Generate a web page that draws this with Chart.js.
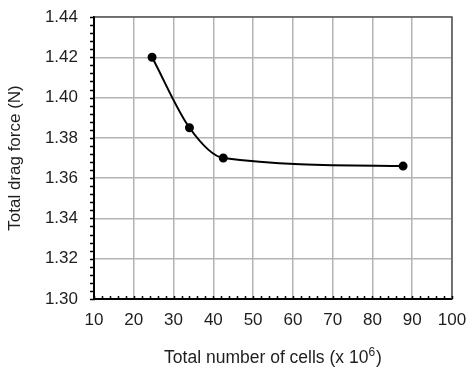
<!DOCTYPE html>
<html>
<head>
<meta charset="utf-8">
<script src="https://cdn.jsdelivr.net/npm/chart.js@4/dist/chart.umd.min.js"></script>
<style>
  html, body { margin: 0; padding: 0; background: #fff; }
  #wrap { width: 474px; height: 372px; }
</style>
</head>
<body>
<div id="wrap"><canvas id="chart" width="474" height="372"></canvas></div>
<script>
// mesh size (millions of cells) vs drag force
const cells = [24.6, 34.0, 42.5, 87.7];
const dragForce = [1.420, 1.385, 1.370, 1.366];
const xTicks = [10, 20, 30, 40, 50, 60, 70, 80, 90, 100];
const yTicks = [1.30, 1.32, 1.34, 1.36, 1.38, 1.40, 1.42, 1.44];

const FONT = '"Liberation Sans", Arial, sans-serif';
const TXT = '#1e1e1e';

// frame, minor ticks and the x title with a real superscript
const axisDecor = {
  id: 'axisDecor',
  afterDatasetsDraw(chart) {
    const { ctx, chartArea: a, scales: { x, y } } = chart;
    ctx.save();
    ctx.strokeStyle = '#555';
    ctx.lineWidth = 1.5;
    ctx.beginPath();
    ctx.moveTo(a.left, a.top);
    ctx.lineTo(a.right, a.top);
    ctx.lineTo(a.right, a.bottom);
    ctx.stroke();

    ctx.strokeStyle = '#000';
    ctx.lineWidth = 1.5;
    ctx.beginPath();
    for (let v = 1.30; v <= 1.4401; v += 0.004) {
      const py = Math.round(y.getPixelForValue(v)) + 0.5;
      ctx.moveTo(a.left - 4, py);
      ctx.lineTo(a.left + 1, py);
    }
    for (let v = 10; v <= 100.01; v += 2) {
      const px = Math.round(x.getPixelForValue(v)) + 0.5;
      ctx.moveTo(px, a.bottom);
      ctx.lineTo(px, a.bottom - 3);
    }
    ctx.stroke();

    // x axis title
    const main = 'Total number of cells (x 10';
    const sup = '6';
    const tail = ')';
    ctx.fillStyle = TXT;
    ctx.textBaseline = 'alphabetic';
    ctx.textAlign = 'left';
    ctx.font = '17.5px ' + FONT;
    const wMain = ctx.measureText(main).width;
    const wTail = ctx.measureText(tail).width;
    ctx.font = '12px ' + FONT;
    const wSup = ctx.measureText(sup).width;
    const total = wMain + wSup + 1 + wTail;
    let cx = (a.left + a.right) / 2 - total / 2;
    const base = 363;
    ctx.font = '17.5px ' + FONT;
    ctx.fillText(main, cx, base);
    cx += wMain;
    ctx.font = '12px ' + FONT;
    ctx.fillText(sup, cx, base - 7);
    cx += wSup + 1;
    ctx.font = '17.5px ' + FONT;
    ctx.fillText(tail, cx, base);
    ctx.restore();
  }
};

new Chart(document.getElementById('chart'), {
  type: 'scatter',
  data: {
    datasets: [{
      data: cells.map((c, i) => ({ x: c, y: dragForce[i] })),
      showLine: true,
      cubicInterpolationMode: 'monotone',
      borderColor: '#000',
      borderWidth: 2,
      backgroundColor: '#000',
      pointRadius: 3.5,
      pointHoverRadius: 3.5,
    }],
  },
  options: {
    responsive: false,
    animation: false,
    events: [],
    layout: { padding: { left: 0, right: 22, top: 17, bottom: 0 } },
    plugins: { legend: { display: false }, tooltip: { enabled: false } },
    scales: {
      x: {
        type: 'linear',
        min: 10,
        max: 100,
        afterBuildTicks: (s) => { s.ticks = xTicks.map((v) => ({ value: v })); },
        afterFit: (s) => { s.height = 73; s.paddingLeft = 0; s.paddingRight = 0; },
        grid: { color: '#b4b4b4', lineWidth: 1.5, drawTicks: false },
        border: { color: '#000', width: 2 },
        ticks: { color: TXT, font: { family: FONT, size: 17 }, padding: 11, maxRotation: 0 },
      },
      y: {
        min: 1.30,
        max: 1.44,
        afterBuildTicks: (s) => { s.ticks = yTicks.map((v) => ({ value: v })); },
        afterFit: (s) => { s.width = 94; s.paddingTop = 0; s.paddingBottom = 0; },
        grid: { color: '#b4b4b4', lineWidth: 1.5, drawTicks: false },
        border: { color: '#000', width: 2 },
        ticks: {
          color: TXT,
          font: { family: FONT, size: 17 },
          padding: 16,
          callback: (v) => v.toFixed(2),
        },
        title: {
          display: true,
          text: 'Total drag force (N)',
          color: TXT,
          font: { family: FONT, size: 17 },
          padding: { top: 5, bottom: 6 },
        },
      },
    },
  },
  plugins: [axisDecor],
});
</script>
</body>
</html>
